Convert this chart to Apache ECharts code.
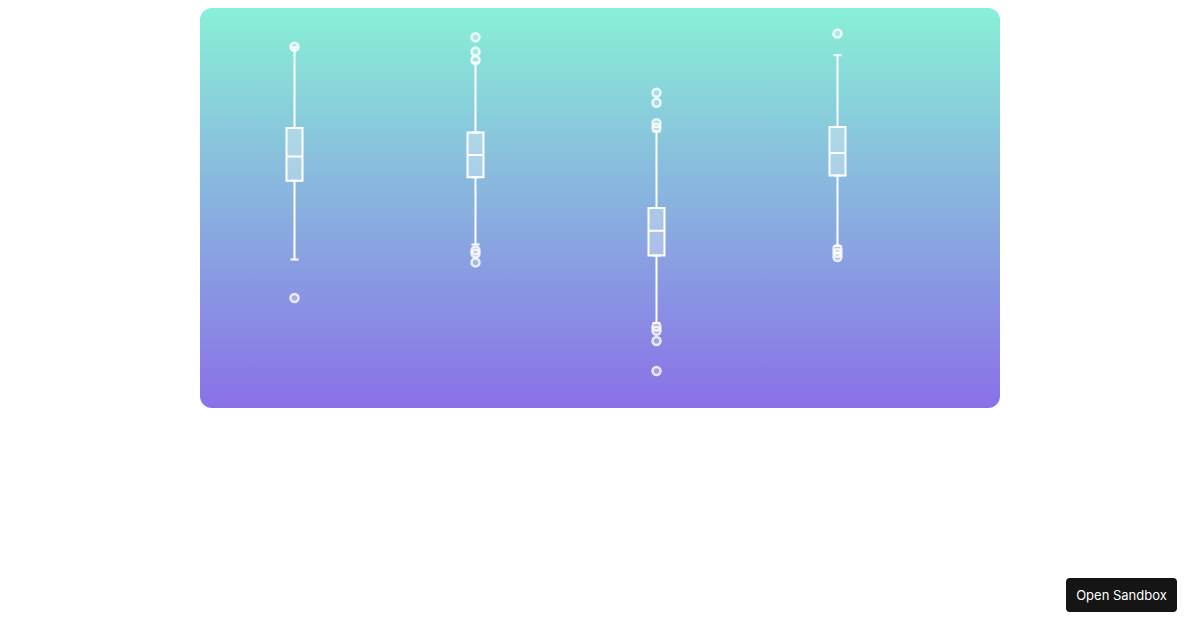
<!DOCTYPE html>
<html>
<head>
<meta charset="utf-8">
<script src="https://cdn.jsdelivr.net/npm/echarts@6/dist/echarts.min.js"></script>
<style>
  html, body { margin: 0; padding: 0; background: #ffffff; width: 1200px; height: 630px; overflow: hidden; font-family: Inter, "Noto Sans", sans-serif; }
  #wrap {
    position: absolute; left: 200px; top: 8px; width: 800px; height: 400px;
    border-radius: 12px; overflow: hidden;
    background: linear-gradient(to bottom, #88f0d6 0%, #8a70e8 100%);
  }
  #chart { width: 800px; height: 400px; }
  #sandbox {
    position: absolute; left: 1066px; top: 578px; width: 111px; height: 34px;
    background: #151515; color: #ffffff; border: none; border-radius: 4px;
    font-family: Inter, "Noto Sans", sans-serif; font-size: 13px; line-height: 34px; text-align: center;
  }
</style>
</head>
<body>
<div id="wrap"><div id="chart"></div></div>
<div id="sandbox">Open Sandbox</div>
<script>
// Categories (not displayed in the reference)
const categories = ['A', 'B', 'C', 'D'];

// Boxplot statistics per category: [lower whisker, Q1, median, Q3, upper whisker]
const boxA = [37.1, 56.8, 62.9, 70.0, 90.2];
const boxB = [40.9, 57.7, 63.25, 68.9, 86.4];
const boxC = [21.25, 38.1, 44.3, 50.0, 69.1];
const boxD = [40.5, 58.1, 63.75, 70.25, 88.2];

// Outliers per category
const outliersA = [90.3, 27.5];
const outliersB = [92.7, 89.1, 87.0, 39.4, 38.6, 36.4];
const outliersC = [78.8, 76.3, 71.2, 70.1, 20.3, 19.3, 16.75, 9.25];
const outliersD = [93.6, 39.75, 38.75, 37.75];

const boxData = [boxA, boxB, boxC, boxD];
const outlierLists = [outliersA, outliersB, outliersC, outliersD];
const outlierData = [];
outlierLists.forEach(function (list, i) {
  list.forEach(function (v) { outlierData.push([i, v]); });
});

// Box part (Q1..Q3 with median), and the two whiskers drawn as narrow boxplots
const boxOnly = boxData.map(function (d) { return [d[1], d[1], d[2], d[3], d[3]]; });
const lowerWhisker = boxData.map(function (d) { return [d[0], d[1], d[1], d[1], d[1]]; });
const upperWhisker = boxData.map(function (d) { return [d[3], d[3], d[3], d[3], d[4]]; });

const lineStyle = {
  color: 'rgba(255,255,255,0)',
  borderColor: '#ffffff',
  borderWidth: 2
};

function hiddenCategoryAxis() {
  return {
    type: 'category',
    data: categories,
    boundaryGap: true,
    axisLine: { show: false },
    axisTick: { show: false },
    axisLabel: { show: false },
    splitLine: { show: false }
  };
}

const chart = echarts.init(document.getElementById('chart'), null, { renderer: 'canvas' });
chart.setOption({
  backgroundColor: 'transparent',
  animation: false,
  grid: { left: 4, right: 72, top: 0, bottom: 0 },
  xAxis: [hiddenCategoryAxis(), hiddenCategoryAxis(), hiddenCategoryAxis()],
  yAxis: {
    type: 'value',
    min: 0,
    max: 100,
    axisLine: { show: false },
    axisTick: { show: false },
    axisLabel: { show: false },
    splitLine: { show: false }
  },
  series: [
    {
      type: 'boxplot',
      xAxisIndex: 1,
      data: lowerWhisker,
      boxWidth: [8, 8],
      itemStyle: lineStyle
    },
    {
      type: 'boxplot',
      xAxisIndex: 2,
      data: upperWhisker,
      boxWidth: [8, 8],
      itemStyle: lineStyle
    },
    {
      type: 'boxplot',
      xAxisIndex: 0,
      data: boxOnly,
      boxWidth: [16, 16],
      itemStyle: {
        color: 'rgba(255,255,255,0.3)',
        borderColor: '#ffffff',
        borderWidth: 2
      }
    },
    {
      type: 'scatter',
      xAxisIndex: 0,
      data: outlierData,
      symbol: 'circle',
      symbolSize: 8,
      itemStyle: {
        color: 'rgba(255,255,255,0.3)',
        borderColor: '#ffffff',
        borderWidth: 2.5
      }
    }
  ]
});
</script>
</body>
</html>
